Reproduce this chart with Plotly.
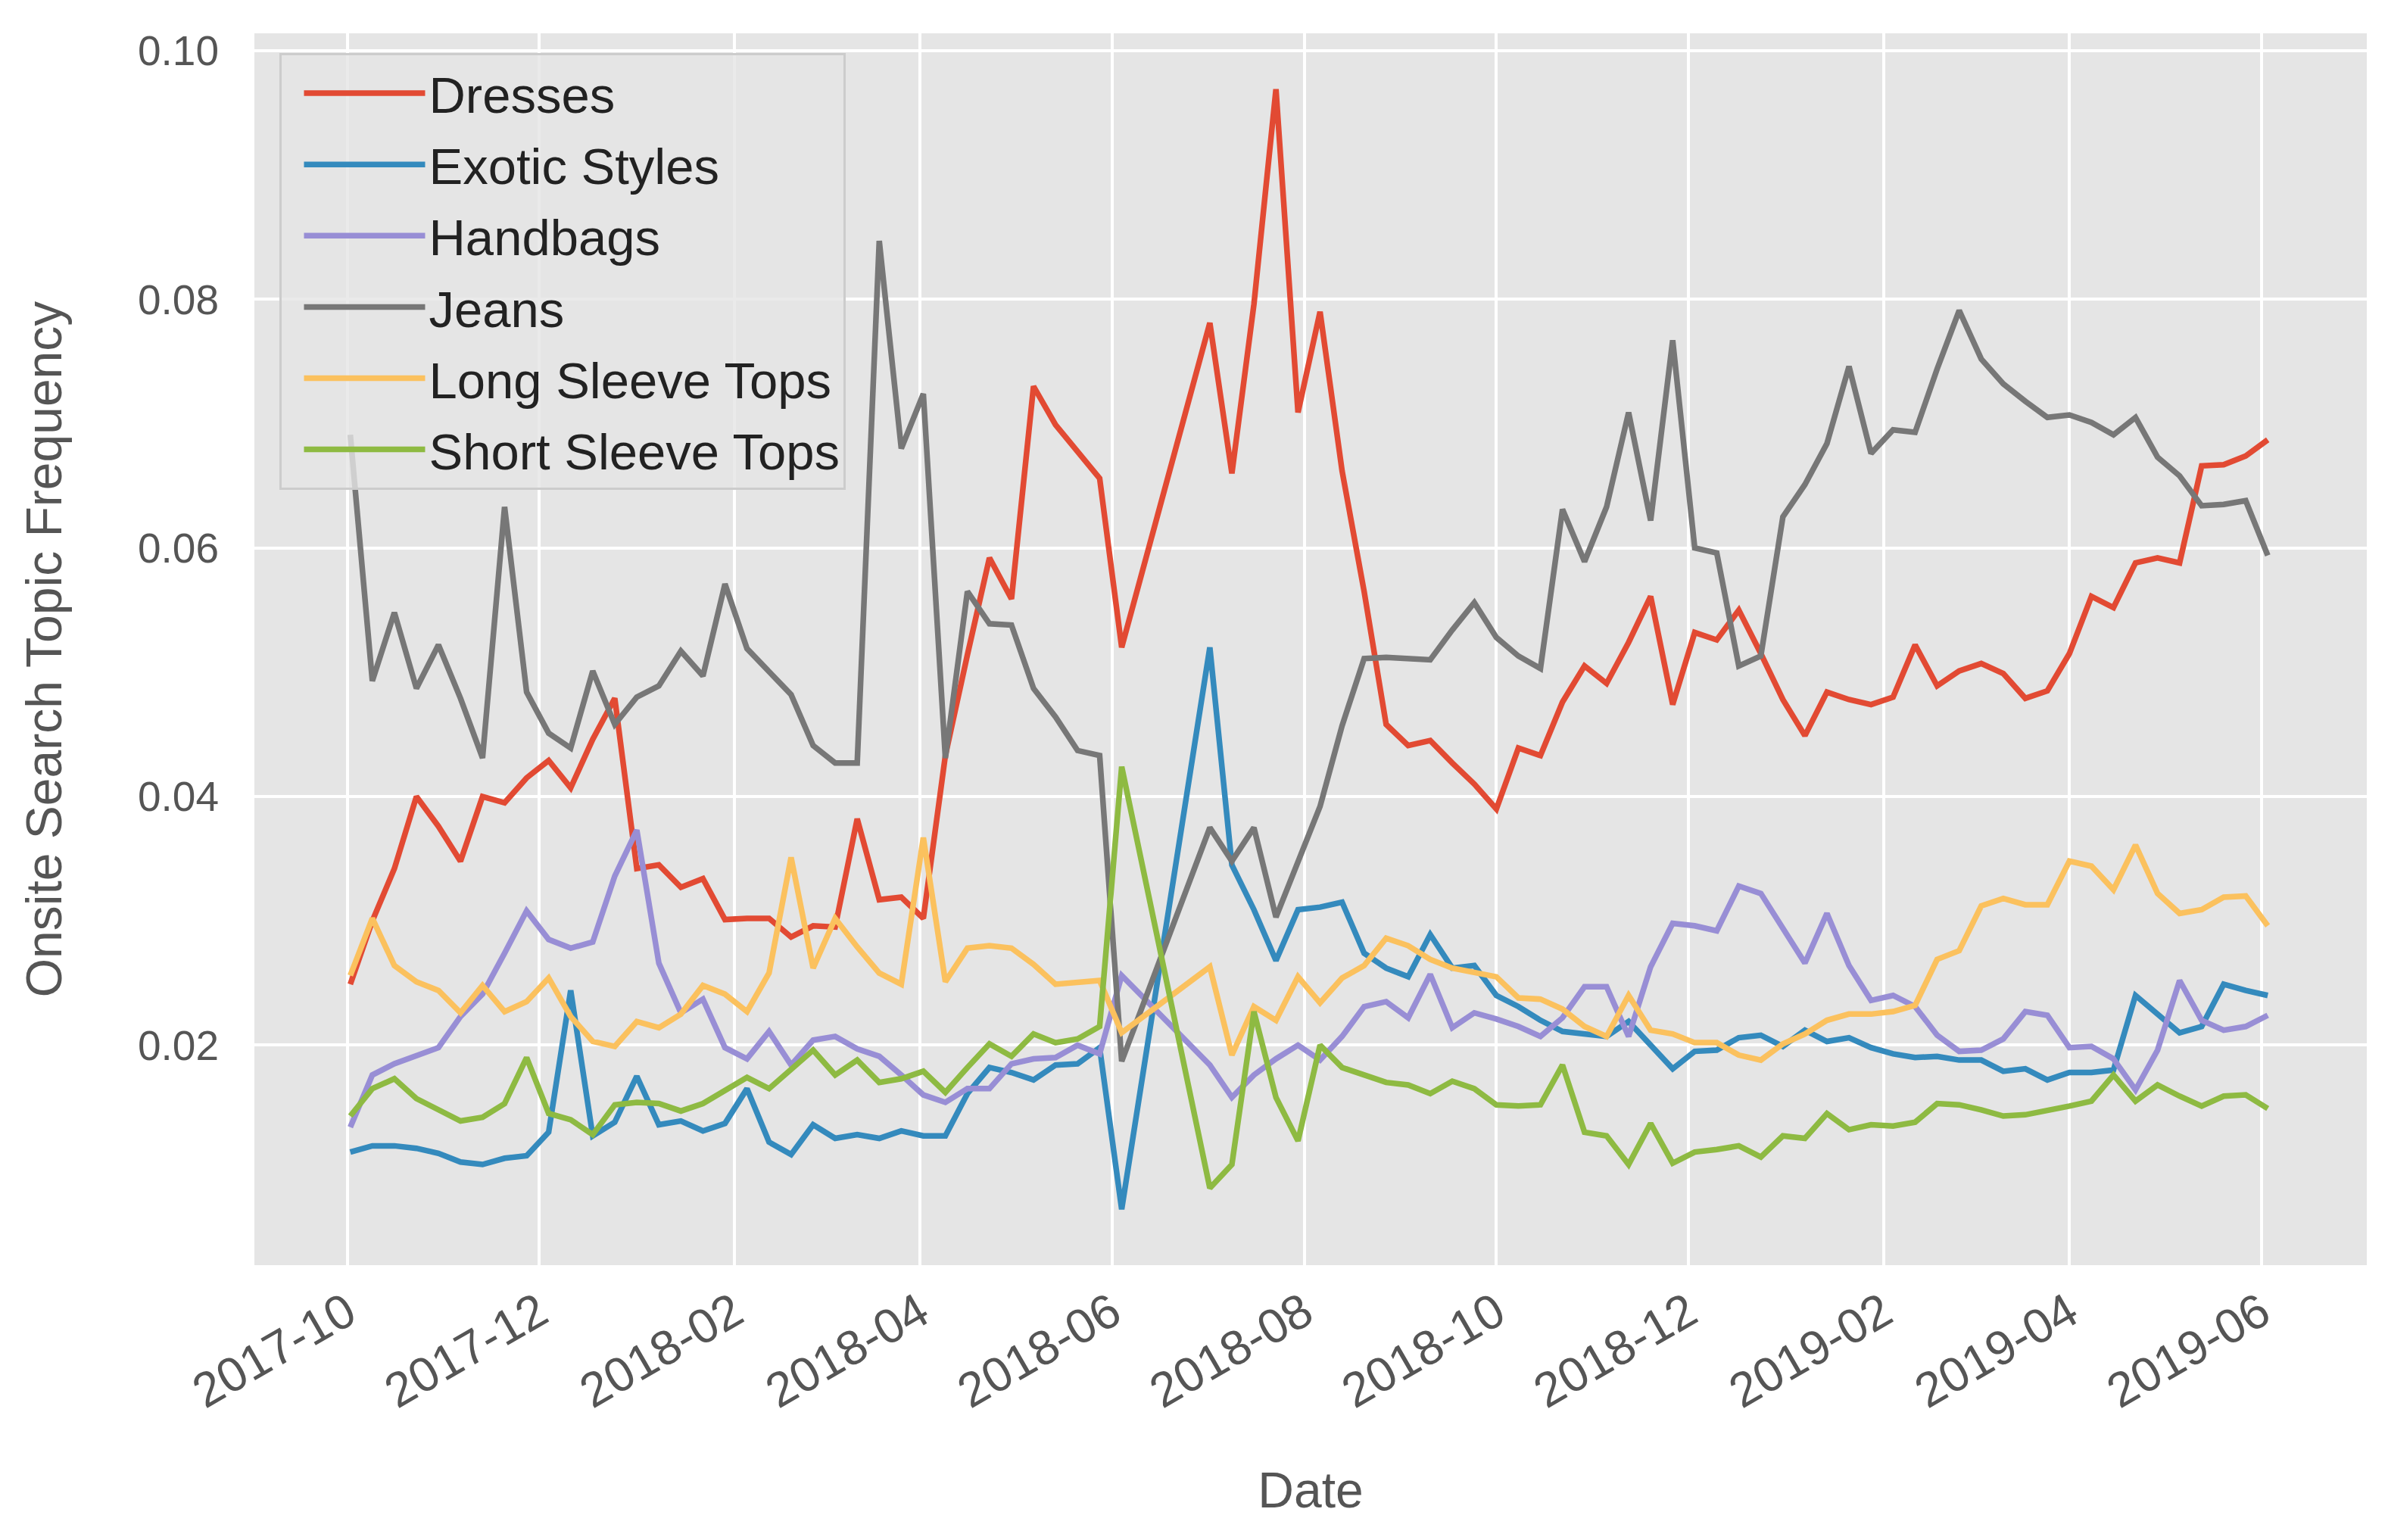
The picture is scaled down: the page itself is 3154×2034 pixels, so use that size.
import plotly.graph_objects as go

dates = [
    "2017-10-02", "2017-10-09", "2017-10-16", "2017-10-23", "2017-10-30",
    "2017-11-06", "2017-11-13", "2017-11-20", "2017-11-27", "2017-12-04",
    "2017-12-11", "2017-12-18", "2017-12-25", "2018-01-01", "2018-01-08",
    "2018-01-15", "2018-01-22", "2018-01-29", "2018-02-05", "2018-02-12",
    "2018-02-19", "2018-02-26", "2018-03-05", "2018-03-12", "2018-03-19",
    "2018-03-26", "2018-04-02", "2018-04-09", "2018-04-16", "2018-04-23",
    "2018-04-30", "2018-05-07", "2018-05-14", "2018-05-21", "2018-05-28",
    "2018-06-04", "2018-07-02", "2018-07-09", "2018-07-16", "2018-07-23",
    "2018-07-30", "2018-08-06", "2018-08-13", "2018-08-20", "2018-08-27",
    "2018-09-03", "2018-09-10", "2018-09-17", "2018-09-24", "2018-10-01",
    "2018-10-08", "2018-10-15", "2018-10-22", "2018-10-29", "2018-11-05",
    "2018-11-12", "2018-11-19", "2018-11-26", "2018-12-03", "2018-12-10",
    "2018-12-17", "2018-12-24", "2018-12-31", "2019-01-07", "2019-01-14",
    "2019-01-21", "2019-01-28", "2019-02-04", "2019-02-11", "2019-02-18",
    "2019-02-25", "2019-03-04", "2019-03-11", "2019-03-18", "2019-03-25",
    "2019-04-01", "2019-04-08", "2019-04-15", "2019-04-22", "2019-04-29",
    "2019-05-06", "2019-05-13", "2019-05-20", "2019-05-27", "2019-06-03",
]

dresses = [
    0.0249, 0.0300, 0.0342, 0.0400, 0.0376, 0.0348, 0.0400, 0.0395, 0.0415, 0.0429,
    0.0407, 0.0446, 0.0479, 0.0342, 0.0345, 0.0327, 0.0334, 0.0301, 0.0302, 0.0302,
    0.0287, 0.0296, 0.0295, 0.0382, 0.0317, 0.0319, 0.0302, 0.0433, 0.0514, 0.0592,
    0.0559, 0.0730, 0.0699, 0.0678, 0.0656, 0.0520,
    0.0781, 0.0660, 0.0796, 0.0969, 0.0709, 0.0790, 0.0662, 0.0565,
    0.0458, 0.0441, 0.0445, 0.0427, 0.0410, 0.0390, 0.0439, 0.0433, 0.0476, 0.0505,
    0.0491, 0.0524, 0.0561, 0.0474, 0.0532, 0.0526,
    0.0550, 0.0515, 0.0478, 0.0449, 0.0484, 0.0478, 0.0474, 0.0480, 0.0522, 0.0489,
    0.0501, 0.0507, 0.0499, 0.0479, 0.0485,
    0.0515, 0.0561, 0.0552, 0.0588, 0.0592, 0.0588, 0.0666, 0.0667, 0.0674, 0.0687,
]

exotic_styles = [
    0.0114, 0.0119, 0.0119, 0.0117, 0.0113, 0.0106, 0.0104, 0.0109, 0.0111, 0.0130,
    0.0244, 0.0127, 0.0138, 0.0175, 0.0136, 0.0139, 0.0131, 0.0137, 0.0165, 0.0122,
    0.0112, 0.0136, 0.0125, 0.0128, 0.0125, 0.0131, 0.0127, 0.0127, 0.0161, 0.0182,
    0.0178, 0.0172, 0.0184, 0.0185, 0.0198, 0.0068,
    0.0520, 0.0345, 0.0309, 0.0268, 0.0309, 0.0311, 0.0315, 0.0274,
    0.0262, 0.0255, 0.0289, 0.0262, 0.0264, 0.0240, 0.0231, 0.0220, 0.0211, 0.0209,
    0.0207, 0.0219, 0.0200, 0.0181, 0.0195, 0.0196,
    0.0206, 0.0208, 0.0199, 0.0212, 0.0203, 0.0206, 0.0198, 0.0193, 0.0190, 0.0191,
    0.0188, 0.0188, 0.0179, 0.0181, 0.0172,
    0.0178, 0.0178, 0.0180, 0.0240, 0.0225, 0.0210, 0.0215, 0.0249, 0.0244, 0.0240,
]

handbags = [
    0.0134, 0.0176, 0.0185, 0.0192, 0.0198, 0.0223, 0.0241, 0.0274, 0.0308, 0.0285,
    0.0278, 0.0283, 0.0336, 0.0373, 0.0266, 0.0226, 0.0237, 0.0198, 0.0189, 0.0211,
    0.0184, 0.0204, 0.0207, 0.0197, 0.0191, 0.0176, 0.0160, 0.0154, 0.0165, 0.0165,
    0.0185, 0.0189, 0.0190, 0.0200, 0.0193, 0.0256,
    0.0184, 0.0158, 0.0176, 0.0189, 0.0200, 0.0188, 0.0207, 0.0231,
    0.0235, 0.0222, 0.0257, 0.0214, 0.0226, 0.0221, 0.0215, 0.0207, 0.0222, 0.0247,
    0.0247, 0.0207, 0.0263, 0.0298, 0.0296, 0.0292,
    0.0328, 0.0322, 0.0294, 0.0266, 0.0306, 0.0264, 0.0236, 0.0240, 0.0231, 0.0208,
    0.0195, 0.0196, 0.0205, 0.0227, 0.0224,
    0.0198, 0.0199, 0.0189, 0.0164, 0.0196, 0.0252, 0.0220, 0.0212, 0.0215, 0.0224,
]

jeans = [
    0.0691, 0.0493, 0.0548, 0.0487, 0.0522, 0.0479, 0.0431, 0.0633, 0.0484, 0.0451,
    0.0439, 0.0501, 0.0458, 0.0480, 0.0489, 0.0517, 0.0497, 0.0571, 0.0519, 0.0501,
    0.0482, 0.0441, 0.0427, 0.0427, 0.0847, 0.0680, 0.0724, 0.0431, 0.0565, 0.0539,
    0.0538, 0.0487, 0.0464, 0.0437, 0.0433, 0.0187,
    0.0375, 0.0348, 0.0375, 0.0303, 0.0348, 0.0392, 0.0457, 0.0511,
    0.0512, 0.0511, 0.0510, 0.0534, 0.0556, 0.0528, 0.0513, 0.0503, 0.0631, 0.0589,
    0.0633, 0.0709, 0.0622, 0.0767, 0.0600, 0.0596,
    0.0505, 0.0513, 0.0625, 0.0651, 0.0684, 0.0746, 0.0676, 0.0695, 0.0693, 0.0744,
    0.0791, 0.0752, 0.0732, 0.0718, 0.0705,
    0.0707, 0.0701, 0.0691, 0.0705, 0.0673, 0.0658, 0.0634, 0.0635, 0.0638, 0.0594,
]

long_sleeve_tops = [
    0.0256, 0.0302, 0.0264, 0.0251, 0.0244, 0.0226, 0.0248, 0.0227, 0.0235, 0.0254,
    0.0223, 0.0203, 0.0199, 0.0219, 0.0214, 0.0225, 0.0248, 0.0241, 0.0227, 0.0258,
    0.0351, 0.0262, 0.0302, 0.0279, 0.0258, 0.0249, 0.0367, 0.0251, 0.0278, 0.0280,
    0.0278, 0.0265, 0.0249, 0.0251, 0.0252, 0.0210,
    0.0263, 0.0192, 0.0231, 0.0220, 0.0255, 0.0234, 0.0254, 0.0264,
    0.0286, 0.0280, 0.0269, 0.0262, 0.0259, 0.0255, 0.0238, 0.0237, 0.0229, 0.0215,
    0.0207, 0.0240, 0.0212, 0.0209, 0.0202, 0.0202,
    0.0192, 0.0188, 0.0201, 0.0209, 0.0220, 0.0225, 0.0225, 0.0227, 0.0232, 0.0269,
    0.0276, 0.0312, 0.0318, 0.0313, 0.0313,
    0.0348, 0.0344, 0.0325, 0.0361, 0.0322, 0.0306, 0.0309, 0.0319, 0.0320, 0.0296,
]

short_sleeve_tops = [
    0.0143, 0.0165, 0.0173, 0.0157, 0.0148, 0.0139, 0.0142, 0.0153, 0.0190, 0.0145,
    0.0140, 0.0128, 0.0152, 0.0154, 0.0153, 0.0147, 0.0153, 0.0164, 0.0174, 0.0165,
    0.0180, 0.0196, 0.0176, 0.0188, 0.0170, 0.0173, 0.0179, 0.0162, 0.0182, 0.0201,
    0.0191, 0.0209, 0.0202, 0.0205, 0.0215, 0.0424,
    0.0085, 0.0104, 0.0227, 0.0158, 0.0123, 0.0200, 0.0182, 0.0176,
    0.0170, 0.0168, 0.0161, 0.0171, 0.0165, 0.0152, 0.0151, 0.0152, 0.0184, 0.0130,
    0.0127, 0.0104, 0.0137, 0.0105, 0.0114, 0.0116,
    0.0119, 0.0110, 0.0127, 0.0125, 0.0145, 0.0132, 0.0136, 0.0135, 0.0138, 0.0153,
    0.0152, 0.0148, 0.0143, 0.0144, 0.0147,
    0.0151, 0.0155, 0.0176, 0.0155, 0.0168, 0.0159, 0.0151, 0.0159, 0.0160, 0.0149,
]

series_names = ["Dresses", "Exotic Styles", "Handbags", "Jeans",
                "Long Sleeve Tops", "Short Sleeve Tops"]
series_values = [dresses, exotic_styles, handbags, jeans,
                 long_sleeve_tops, short_sleeve_tops]
series_colors = ["#E24A33", "#348ABD", "#988ED5", "#777777", "#FBC15E", "#8EBA42"]

x_tick_labels = ["2017-10", "2017-12", "2018-02", "2018-04", "2018-06",
                 "2018-08", "2018-10", "2018-12", "2019-02", "2019-04", "2019-06"]
x_tick_vals = [t + "-01" for t in x_tick_labels]
y_tick_vals = [0.02, 0.04, 0.06, 0.08, 0.10]
y_tick_labels = ["0.02", "0.04", "0.06", "0.08", "0.10"]

fig = go.Figure()
for name, vals, color in zip(series_names, series_values, series_colors):
    fig.add_trace(go.Scatter(
        x=dates, y=vals, name=name, mode="lines", legendgroup=name,
        line=dict(color=color, width=7.5),
    ))

FONT = "Liberation Sans, Arial, Helvetica, sans-serif"

fig.update_layout(
    width=3154, height=2034,
    paper_bgcolor="white", plot_bgcolor="#E5E5E5",
    margin=dict(l=328, r=36, t=36, b=371),
    font=dict(family=FONT, color="#555555"),
    showlegend=True,
    legend=dict(
        x=0.012, y=0.984, xanchor="left", yanchor="top",
        bgcolor="rgba(229,229,229,0.8)", bordercolor="#CCCCCC", borderwidth=3,
        font=dict(family=FONT, size=67, color="#222222"),
        itemwidth=160, tracegroupgap=4, indentation=24,
    ),
)

fig.update_xaxes(
    range=["2017-09-01 13:00", "2019-07-04 11:00"],
    tickvals=x_tick_vals, ticktext=x_tick_labels,
    tickangle=-30,
    tickfont=dict(family=FONT, size=64, color="#555555"),
    showgrid=True, gridcolor="white", gridwidth=4,
    zeroline=False, showline=False, ticks="",
    ticklabelstandoff=12,
    title=dict(text="Date", font=dict(family=FONT, size=66, color="#555555"),
               standoff=72),
)
fig.update_yaxes(
    range=[0.0023, 0.1014],
    tickvals=y_tick_vals, ticktext=y_tick_labels,
    tickfont=dict(family=FONT, size=55, color="#555555"),
    showgrid=True, gridcolor="white", gridwidth=4,
    zeroline=False, showline=False, ticks="",
    ticklabelstandoff=46,
    title=dict(text="Onsite Search Topic Frequency",
               font=dict(family=FONT, size=66, color="#555555"),
               standoff=78),
)

fig.write_html("out.html")
